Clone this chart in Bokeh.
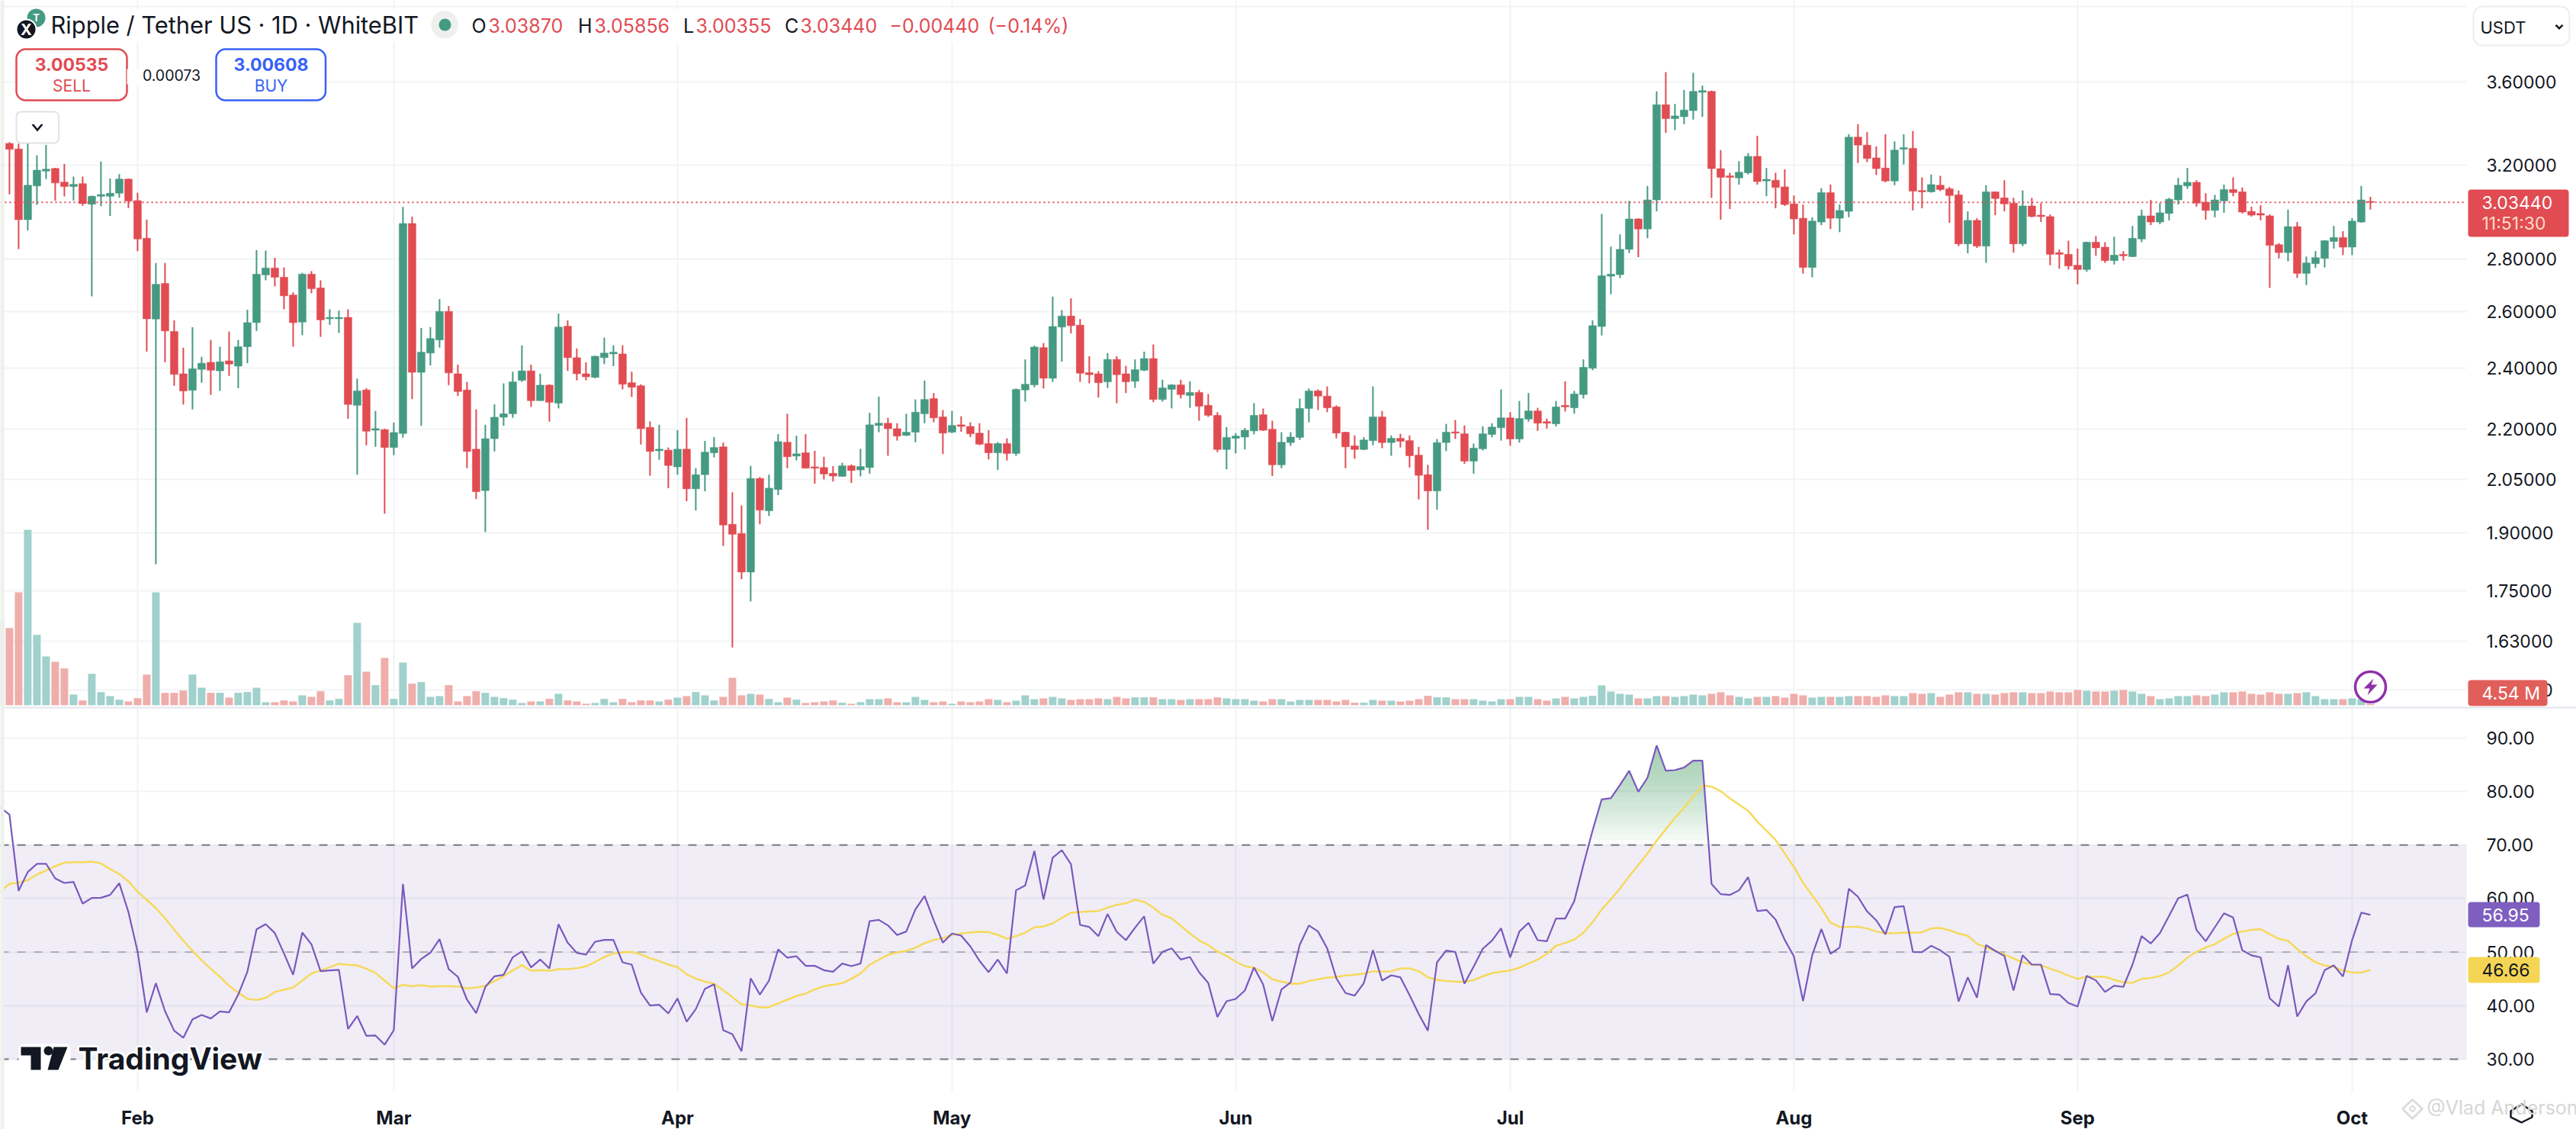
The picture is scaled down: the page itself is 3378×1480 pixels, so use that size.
import numpy as np
from bokeh.plotting import figure
from bokeh.layouts import column
from bokeh.models import (Range1d, LinearScale, FixedTicker, Grid, Label, BoxAnnotation,
                          PolyAnnotation, NumeralTickFormatter, ColumnDataSource)
from bokeh.embed import file_html
from bokeh.resources import INLINE

month_ticks = [14, 42, 73, 103, 134, 164, 195, 226, 256]
month_labels = ["Feb", "Mar", "Apr", "May", "Jun", "Jul", "Aug", "Sep", "Oct"]
price_ticks = [3.6, 3.2, 2.8, 2.6, 2.4, 2.2, 2.05, 1.9, 1.75, 1.63, 1.52]
rsi_ticks = [30, 40, 50, 60, 70, 80, 90]

open_ = [
3.299,3.273,2.961,3.106,3.172,3.184,3.123,3.103,3.116,3.026,
3.061,3.061,3.074,3.136,3.042,2.884,2.572,2.705,2.527,2.380,
2.325,2.395,2.419,2.390,2.424,2.406,2.473,2.559,2.738,2.765,
2.729,2.661,2.561,2.741,2.688,2.573,2.573,2.578,2.276,2.326,
2.197,2.199,2.144,2.187,2.945,2.385,2.451,2.497,2.600,2.380,
2.326,2.139,2.017,2.171,2.238,2.249,2.358,2.390,2.291,2.342,
2.283,2.546,2.435,2.380,2.368,2.435,2.448,2.448,2.350,2.340,
2.206,2.134,2.136,2.086,2.139,2.022,2.063,2.128,2.146,1.923,
1.898,1.797,2.052,1.960,2.020,2.160,2.118,2.128,2.086,2.084,
2.067,2.058,2.089,2.077,2.084,2.212,2.219,2.202,2.181,2.191,
2.249,2.298,2.239,2.191,2.214,2.209,2.188,2.156,2.128,2.156,
2.126,2.326,2.343,2.470,2.365,2.543,2.583,2.550,2.384,2.380,
2.353,2.429,2.380,2.355,2.392,2.432,2.295,2.328,2.343,2.308,
2.318,2.276,2.244,2.138,2.172,2.176,2.195,2.246,2.200,2.092,
2.159,2.175,2.266,2.323,2.306,2.271,2.191,2.149,2.138,2.165,
2.239,2.159,2.172,2.165,2.121,2.063,2.016,2.159,2.192,2.186,
2.103,2.140,2.184,2.205,2.236,2.170,2.232,2.258,2.224,2.217,
2.276,2.268,2.311,2.399,2.545,2.733,2.739,2.839,2.964,2.922,
3.045,3.485,3.417,3.426,3.456,3.547,3.551,3.183,3.151,3.141,
3.164,3.239,3.128,3.131,3.102,3.028,2.967,2.767,2.951,3.077,
2.967,2.996,3.328,3.291,3.232,3.186,3.128,3.272,3.276,3.086,
3.080,3.109,3.093,3.067,2.861,2.958,2.852,3.080,3.054,3.031,
2.861,3.019,2.980,2.974,2.826,2.819,2.776,2.759,2.868,2.848,
2.794,2.819,2.810,2.881,2.977,2.951,2.987,3.045,3.106,3.122,
3.035,3.000,3.041,3.090,3.080,2.996,2.987,2.977,2.858,2.826,
2.932,2.744,2.782,2.803,2.871,2.887,2.848,2.951,3.0387]

close = [
3.271,2.961,3.109,3.176,3.181,3.119,3.103,3.113,3.029,3.061,
3.068,3.074,3.136,3.040,2.881,2.573,2.702,2.529,2.378,2.323,
2.397,2.416,2.392,2.421,2.413,2.473,2.559,2.741,2.765,2.729,
2.658,2.559,2.741,2.685,2.569,2.578,2.578,2.279,2.323,2.194,
2.202,2.144,2.190,2.945,2.385,2.454,2.502,2.600,2.383,2.321,
2.132,2.014,2.171,2.238,2.249,2.353,2.390,2.291,2.342,2.286,
2.543,2.435,2.380,2.370,2.440,2.451,2.454,2.345,2.335,2.202,
2.132,2.139,2.090,2.139,2.022,2.063,2.130,2.144,1.921,1.896,
1.797,2.052,1.962,2.024,2.162,2.116,2.125,2.082,2.082,2.065,
2.059,2.089,2.075,2.087,2.214,2.219,2.202,2.179,2.191,2.254,
2.295,2.236,2.188,2.212,2.209,2.186,2.154,2.128,2.156,2.126,
2.328,2.345,2.472,2.365,2.545,2.583,2.548,2.382,2.377,2.350,
2.429,2.377,2.353,2.394,2.432,2.295,2.333,2.343,2.311,2.318,
2.273,2.244,2.138,2.175,2.179,2.197,2.244,2.197,2.092,2.160,
2.176,2.266,2.323,2.306,2.268,2.188,2.146,2.138,2.167,2.239,
2.159,2.172,2.163,2.119,2.061,2.016,2.159,2.191,2.188,2.103,
2.142,2.186,2.207,2.236,2.170,2.234,2.258,2.219,2.219,2.271,
2.271,2.313,2.402,2.548,2.735,2.741,2.839,2.964,2.922,3.045,
3.485,3.417,3.430,3.459,3.551,3.555,3.183,3.144,3.144,3.167,
3.239,3.125,3.135,3.099,3.025,2.964,2.767,2.955,3.077,2.967,
3.000,3.328,3.291,3.229,3.183,3.128,3.268,3.279,3.083,3.080,
3.112,3.090,3.064,2.861,2.958,2.852,3.080,3.051,3.028,2.861,
3.019,2.974,2.974,2.819,2.819,2.773,2.759,2.868,2.845,2.794,
2.816,2.813,2.884,2.977,2.951,2.990,3.048,3.109,3.122,3.031,
3.000,3.045,3.090,3.077,2.993,2.980,2.980,2.855,2.826,2.932,
2.744,2.785,2.806,2.874,2.887,2.848,2.955,3.045,3.0344]

high = [
3.305,3.298,3.374,3.244,3.292,3.187,3.204,3.147,3.147,3.063,
3.215,3.139,3.158,3.139,3.076,2.961,2.785,2.785,2.567,2.470,
2.542,2.438,2.497,2.473,2.527,2.497,2.606,2.836,2.834,2.805,
2.767,2.671,2.746,2.753,2.717,2.608,2.603,2.608,2.364,2.332,
2.258,2.202,2.221,3.015,2.974,2.540,2.543,2.646,2.620,2.411,
2.353,2.263,2.214,2.279,2.348,2.387,2.478,2.411,2.380,2.345,
2.592,2.567,2.467,2.419,2.442,2.505,2.478,2.478,2.387,2.345,
2.225,2.214,2.144,2.197,2.236,2.082,2.164,2.176,2.159,2.012,
1.975,2.089,2.056,2.063,2.185,2.249,2.180,2.185,2.134,2.116,
2.088,2.098,2.093,2.140,2.252,2.304,2.236,2.219,2.249,2.295,
2.357,2.316,2.261,2.258,2.241,2.222,2.219,2.197,2.160,2.172,
2.331,2.429,2.477,2.486,2.655,2.605,2.649,2.572,2.440,2.389,
2.451,2.440,2.407,2.429,2.456,2.481,2.360,2.345,2.360,2.355,
2.326,2.313,2.254,2.207,2.188,2.204,2.283,2.266,2.227,2.191,
2.191,2.298,2.331,2.328,2.338,2.276,2.192,2.181,2.176,2.338,
2.258,2.181,2.186,2.181,2.146,2.092,2.170,2.217,2.229,2.212,
2.156,2.209,2.219,2.328,2.254,2.290,2.316,2.268,2.234,2.290,
2.355,2.323,2.429,2.567,2.985,2.850,2.900,3.041,2.967,3.106,
3.551,3.650,3.489,3.558,3.646,3.580,3.555,3.268,3.164,3.217,
3.254,3.335,3.186,3.164,3.180,3.064,3.025,2.971,3.096,3.112,
3.025,3.342,3.390,3.353,3.285,3.342,3.309,3.342,3.357,3.144,
3.157,3.151,3.102,3.086,2.996,2.967,3.109,3.082,3.131,3.054,
3.086,3.054,3.031,2.983,2.839,2.874,2.842,2.870,2.893,2.868,
2.890,2.832,2.935,3.003,3.045,3.031,3.054,3.141,3.186,3.131,
3.074,3.067,3.112,3.144,3.099,3.016,3.022,2.983,2.864,3.003,
2.951,2.810,2.832,2.876,2.935,2.913,2.967,3.106,3.05856]

low = [
3.069,2.840,2.916,3.024,3.136,3.042,3.060,3.042,3.020,2.656,
3.017,2.977,3.055,3.010,2.832,2.456,1.817,2.419,2.340,2.279,
2.263,2.350,2.310,2.323,2.373,2.332,2.416,2.529,2.717,2.694,
2.608,2.473,2.514,2.668,2.508,2.551,2.522,2.233,2.063,2.151,
2.146,1.952,2.121,2.174,2.296,2.211,2.408,2.470,2.342,2.306,
2.082,1.993,1.902,2.132,2.211,2.236,2.353,2.271,2.291,2.224,
2.266,2.390,2.358,2.358,2.365,2.413,2.406,2.328,2.303,2.153,
2.060,2.107,2.024,2.063,1.987,1.961,2.015,2.114,1.865,1.615,
1.779,1.724,1.923,1.946,2.004,2.082,2.105,2.081,2.037,2.049,
2.043,2.057,2.039,2.058,2.066,2.191,2.119,2.165,2.179,2.160,
2.219,2.222,2.124,2.188,2.192,2.176,2.151,2.108,2.077,2.105,
2.119,2.288,2.335,2.331,2.353,2.421,2.520,2.353,2.348,2.301,
2.333,2.283,2.316,2.333,2.389,2.286,2.288,2.266,2.298,2.268,
2.227,2.239,2.130,2.079,2.126,2.138,2.184,2.195,2.059,2.082,
2.149,2.167,2.222,2.261,2.254,2.172,2.082,2.110,2.136,2.151,
2.142,2.119,2.144,2.084,1.992,1.908,1.963,2.133,2.170,2.095,
2.066,2.135,2.175,2.165,2.149,2.159,2.224,2.195,2.202,2.209,
2.256,2.249,2.298,2.392,2.513,2.664,2.726,2.824,2.808,2.884,
2.996,3.349,3.362,3.390,3.412,3.426,3.054,2.961,3.006,3.112,
3.157,3.112,3.061,3.009,3.019,2.900,2.743,2.729,2.938,2.922,
2.909,2.971,3.208,3.213,3.154,3.122,3.109,3.202,3.000,3.009,
3.077,3.083,2.948,2.852,2.823,2.845,2.785,2.980,2.996,2.826,
2.852,2.971,2.951,2.776,2.762,2.759,2.702,2.750,2.813,2.785,
2.779,2.794,2.808,2.868,2.938,2.942,2.958,3.025,3.093,3.016,
2.961,2.971,2.990,3.061,2.987,2.974,2.958,2.688,2.803,2.791,
2.726,2.699,2.765,2.767,2.842,2.816,2.816,2.948,3.00355]

volume_prev = 340
volume_m = [
304,444,690,277,192,171,145,42,19,124,
52,36,22,15,28,121,444,49,49,58,
121,69,49,49,30,49,52,69,12,12,
19,15,39,33,55,19,25,118,324,132,
79,186,25,168,85,91,33,36,79,15,
36,55,49,33,28,22,9,15,15,25,
45,19,15,6,9,25,12,25,12,19,
19,15,22,30,36,52,39,19,33,108,
39,45,42,25,12,30,22,9,12,15,
19,10,6,12,24,24,27,12,12,33,
21,12,15,6,15,12,15,24,21,12,
18,39,24,27,33,27,21,24,24,27,
24,33,27,31,31,31,24,24,21,24,
24,24,31,27,24,24,18,15,24,24,
15,21,21,21,21,15,21,10,10,21,
18,18,15,18,24,37,31,31,24,24,
24,18,15,24,24,33,33,24,18,27,
33,27,33,37,78,54,45,42,27,27,
36,36,33,36,42,39,45,51,39,33,
27,33,33,36,30,45,39,30,33,33,
33,36,36,36,33,39,36,36,48,45,
48,33,42,51,51,45,45,42,48,51,
51,48,48,54,51,51,60,57,54,54,
57,60,54,45,36,24,27,36,36,39,
36,42,51,51,54,45,42,51,45,45,
48,51,36,24,24,24,27,24,4.54]

rsi = [77.0,
75.68,61.43,64.95,66.47,66.5,63.76,62.9,63.1,59.06,60.1,
60.15,60.67,62.86,57.49,50.13,38.74,44.2,38.97,35.32,33.99,
37.45,38.26,37.6,38.93,38.74,42.06,46.33,54.26,55.21,53.55,
49.75,45.76,53.65,51.46,46.43,46.57,46.67,35.65,38.07,34.37,
34.42,32.71,35.41,62.72,46.95,48.71,49.9,52.41,46.81,45.38,
41.11,38.59,43.49,45.48,45.76,49.04,50.13,47.14,48.61,46.95,
55.21,51.75,49.85,49.52,51.94,52.27,52.27,48.09,47.66,42.44,
40.02,40.16,38.55,41.35,36.98,39.35,43.15,44.0,35.41,34.65,
31.47,45.1,42.06,44.67,50.51,48.95,49.23,47.43,47.43,46.62,
46.33,47.85,47.38,47.85,55.78,56.02,54.98,53.17,53.84,57.97,
60.48,55.93,51.75,53.46,53.08,51.08,48.38,46.24,48.61,46.0,
61.53,62.43,68.89,59.82,67.61,69.03,66.42,55.07,54.69,52.98,
57.11,53.79,52.22,54.55,56.69,47.85,50.04,50.7,48.61,49.09,
46.24,44.25,37.88,40.83,41.25,42.82,47.14,43.96,37.12,43.01,
44.34,51.37,54.98,53.84,50.7,45.1,42.35,41.87,44.2,50.37,
44.67,45.67,45.29,41.97,38.45,35.32,48.09,50.28,50.04,44.1,
47.28,50.61,52.13,54.45,48.99,53.84,55.45,52.22,52.03,56.26,
56.26,59.53,66.28,72.69,78.53,78.72,81.23,83.85,79.95,82.56,
88.59,83.85,83.99,84.46,85.75,85.75,62.72,60.82,60.67,61.53,
64.0,57.64,57.87,56.07,52.27,49.18,40.87,49.42,54.31,49.66,
50.85,61.81,60.34,57.59,55.93,53.31,58.39,58.58,50.04,49.99,
51.18,50.32,49.14,40.78,45.29,41.49,51.32,50.23,49.28,42.82,
49.42,47.66,47.66,42.16,42.06,40.49,39.83,45.57,44.72,42.54,
43.72,43.49,47.66,52.98,51.6,53.55,56.78,60.06,60.72,54.12,
52.03,54.64,57.24,56.44,50.32,49.39,49.02,41.36,39.82,47.54,
37.97,40.81,42.29,46.62,47.54,45.44,52.24,57.36,56.95]

rsi_ma = [61.3,
62.72,62.95,63.43,64.47,65.23,66.04,66.7,66.8,66.8,66.89,
66.56,65.52,64.57,63.2,61.29,59.77,58.2,56.3,54.17,52.13,
50.23,48.47,46.9,45.38,43.72,42.44,41.25,41.06,41.44,42.54,
42.96,43.39,44.67,46.0,46.57,47.19,47.81,47.62,47.52,46.9,
46.1,44.67,43.25,43.87,43.63,43.82,43.58,43.63,43.63,43.58,
43.2,43.39,43.72,44.58,45.48,46.57,47.57,46.52,46.62,46.52,
46.81,46.81,47.0,47.33,48.14,49.09,49.75,49.94,50.04,49.56,
48.85,48.33,47.66,47.19,45.86,45.05,44.49,44.06,42.87,41.59,
40.26,40.02,39.64,39.73,40.4,41.11,41.82,42.25,43.01,43.63,
43.87,44.2,45.0,46.0,47.66,48.57,49.47,49.94,50.23,50.8,
51.65,52.27,52.6,53.22,53.46,53.69,53.79,53.74,53.22,52.51,
52.98,53.6,54.64,54.79,55.36,56.4,57.35,57.49,57.59,57.68,
58.3,58.82,59.11,59.77,59.39,58.3,56.97,56.31,54.88,53.46,
52.17,51.32,50.13,49.28,48.23,47.38,47.05,46.24,44.91,44.48,
44.1,44.1,44.58,44.91,45.24,45.34,45.62,45.76,46.0,46.43,
46.33,46.43,46.95,46.95,46.43,45.29,44.81,44.58,44.48,44.43,
44.77,45.48,46.05,46.33,46.57,47.09,47.85,48.61,49.66,51.18,
51.7,52.36,53.6,55.59,57.97,59.87,61.91,64.14,66.28,68.41,
70.79,72.93,75.06,76.96,79.0,81.14,80.9,80.05,78.72,77.53,
76.39,74.35,72.69,70.93,68.41,65.9,62.95,60.58,58.2,55.5,
54.69,54.69,54.74,54.41,53.84,53.55,53.55,53.65,53.6,53.69,
54.41,54.5,54.07,53.46,53.03,51.56,50.85,50.23,49.56,48.8,
48.09,47.66,47.52,46.9,46.33,45.62,45.0,45.38,45.38,45.38,
44.81,44.39,44.25,45.0,45.15,45.53,46.19,47.52,48.95,50.04,
50.85,51.49,52.48,53.41,53.84,54.15,54.27,53.35,52.48,52.11,
50.57,49.21,48.1,47.48,47.23,46.55,46.18,46.18,46.66]

last_price = 3.0344
last_rsi = 56.95
last_ma = 46.66

GREEN, RED = "#459a82", "#e14b52"
VGREEN, VRED = "#a0d1cc", "#efaeab"
INK = "#131722"
GRID = "#f2f3f4"
FONT = "Inter"
AXIS_PX = 23

# ---- page-pixel layout: frames fill both canvases, axes sit at fixed locations ----
SPLIT, BOT, RIGHT, W, H = 926, 1430, 3234, 3378, 1480
px_per_day = 12.0
x0_page = 11.9
xr = Range1d((0 - x0_page) / px_per_day, (W - x0_page) / px_per_day)
x_axis_end = (RIGHT - x0_page) / px_per_day
rsi_floor = 24.02

n = len(close)
idx = np.arange(n)
o, c, h, l = map(np.array, (open_, close, high, low))
up = c >= o

common = dict(width=W, x_range=xr, y_axis_location="right", output_backend="svg", toolbar_location=None,
              min_border_left=0, min_border_right=0, min_border_top=0, min_border_bottom=0,
              outline_line_color=None, background_fill_color="white", border_fill_color="white")
p1 = figure(height=SPLIT, y_range=Range1d(1.4848, 4.040), y_axis_type="log", x_axis_location=None, **common)
p2 = figure(height=H - SPLIT, y_range=Range1d(16.89, 95.81), **common)


def fb(p):
    return SPLIT if p is p1 else H


def under(p, x0, y0, x1, y1):
    p.add_layout(BoxAnnotation(left=x0, right=x1, top=fb(p) - y0, bottom=fb(p) - y1,
                               left_units="screen", right_units="screen", top_units="screen", bottom_units="screen",
                               fill_color="white", fill_alpha=1, line_alpha=0, level="underlay"))


for p in (p1, p2):
    p.grid.visible = False
    p.add_layout(Grid(dimension=0, ticker=FixedTicker(ticks=month_ticks), grid_line_color=GRID, grid_line_width=2))

p1.add_layout(Grid(dimension=1, ticker=FixedTicker(ticks=price_ticks), grid_line_color=GRID, grid_line_width=2))
p2.add_layout(Grid(dimension=1, ticker=FixedTicker(ticks=rsi_ticks), grid_line_color=GRID, grid_line_width=2))
under(p1, RIGHT, 0, W, SPLIT)
under(p2, RIGHT, SPLIT, W, H)
under(p2, 0, BOT, W, H)

for p, ticks, fmt in ((p1, price_ticks, "0.00000"), (p2, rsi_ticks, "0.00")):
    ax = p.yaxis[0]
    ax.ticker = FixedTicker(ticks=ticks)
    ax.formatter = NumeralTickFormatter(format=fmt)
    ax.axis_line_color = None
    ax.major_tick_line_color = None
    ax.minor_tick_line_color = None
    ax.major_label_text_font = FONT
    ax.major_label_text_font_size = f"{AXIS_PX}px"
    ax.major_label_text_color = INK
    ax.major_label_standoff = 20
    ax.fixed_location = x_axis_end

xa = p2.xaxis[0]
xa.ticker = FixedTicker(ticks=month_ticks)
xa.major_label_overrides = dict(zip(month_ticks, month_labels))
xa.axis_line_color = None
xa.major_tick_line_color = None
xa.minor_tick_line_color = None
xa.major_label_text_font = FONT
xa.major_label_text_font_size = "24px"
xa.major_label_text_font_style = "bold"
xa.major_label_text_color = INK
xa.major_label_standoff = 15
xa.fixed_location = rsi_floor

# ---- volume on its own linear scale ---------------------------------------
p1.extra_y_ranges = {"vol": Range1d(-6, 2772)}
p1.extra_y_scales = {"vol": LinearScale()}
p1.vbar(x=np.arange(-1, n), top=[volume_prev] + volume_m, bottom=0, width=10 / px_per_day, y_range_name="vol",
        color=[VGREEN] + [VGREEN if u else VRED for u in up], line_alpha=0)

# ---- candles ----------------------------------------------------------------
cols = [GREEN if u else RED for u in up]
src = ColumnDataSource(dict(x=idx, high=h, low=l, top=np.maximum(o, c), bottom=np.minimum(o, c), color=cols))
p1.segment(x0="x", x1="x", y0="low", y1="high", source=src, line_color="color", line_width=2)
p1.vbar(x="x", top="top", bottom="bottom", width=10 / px_per_day, source=src, fill_color="color", line_color="color",
        line_width=0.5)
p1.segment(x0=[xr.start], x1=[x_axis_end], y0=[last_price], y1=[last_price], line_color="#e14b52", line_width=2,
           line_dash="2 4")

# ---- RSI pane -----------------------------------------------------------------
xrsi = np.arange(-1, n)
p2.quad(left=[xr.start], right=[x_axis_end], bottom=[30], top=[70], fill_color="#694baf", fill_alpha=0.1, line_alpha=0)
xf = np.arange(171, 188, 0.02)
yf = np.interp(xf, xrsi, rsi)
for t in range(70, 89):
    p2.varea(x=xf, y1=np.full_like(xf, t), y2=np.maximum(yf, t), fill_color="#4caf50", fill_alpha=0.03)
for lvl, a in ((70, 1), (50, 0.5), (30, 1)):
    p2.segment(x0=[xr.start], x1=[x_axis_end], y0=[lvl], y1=[lvl], line_color="#787b86", line_alpha=a, line_width=2,
               line_dash="11 11")
p2.line(xrsi, rsi_ma, line_color="#f7d95a", line_width=2.5)
p2.line(xrsi, rsi, line_color="#7a59bd", line_width=2.2)


# ---- screen furniture helpers (page pixels -> frame offsets) ------------------
def text(p, x, y, s, size, color=INK, align="left", bold=False, font=FONT):
    p.add_layout(Label(x=x, y=fb(p) - y, x_units="screen", y_units="screen", text=s, text_font=font,
                       text_font_size=f"{size}px", text_color=color, text_align=align, text_baseline="middle",
                       text_font_style="bold" if bold else "normal", level="overlay"))


def box(p, x0, y0, x1, y1, fill="white", line=None, lw=2, r=0):
    p.add_layout(BoxAnnotation(left=x0, right=x1, top=fb(p) - y0, bottom=fb(p) - y1,
                               left_units="screen", right_units="screen", top_units="screen", bottom_units="screen",
                               fill_color=fill, fill_alpha=1 if fill else 0, line_color=line,
                               line_alpha=1 if line else 0, line_width=lw, border_radius=r, level="overlay"))


def poly(p, pts, fill=INK, line=None, lw=1):
    p.add_layout(PolyAnnotation(xs=[a for a, _ in pts], ys=[fb(p) - b for _, b in pts],
                                xs_units="screen", ys_units="screen",
                                fill_color=fill, fill_alpha=1 if fill else 0,
                                line_color=line, line_alpha=1 if line else 0, line_width=lw, level="overlay"))


# left strip of the screenshot and top edge
box(p1, 0, 0, 5, SPLIT, fill="#eef0ec")
box(p2, 0, SPLIT, 5, H, fill="#eef0ec")
box(p1, 5, 7, RIGHT, 9, fill="#f3f3f4")
# header
box(p1, 5, 12, 1420, 55)
box(p1, 35, 11, 59, 35, fill=GREEN, r=12)
text(p1, 47, 22, "T", 13, "white", "center", True)
box(p1, 21, 25, 47, 51, fill=INK, line="white", lw=2, r=13)
text(p1, 34, 38, "X", 20, "white", "center", True)
text(p1, 66, 32, "Ripple / Tether US · 1D · WhiteBIT", 30.8)
box(p1, 565, 14, 600, 50, fill="#eef0ee", r=17)
box(p1, 575, 24, 591, 40, fill=GREEN, r=8)
for xx, lab, xv, val in ((618, "O", 640, "3.03870"), (757.5, "H", 779, "3.05856"),
                         (895.6, "L", 912, "3.00355"), (1028.6, "C", 1049, "3.03440")):
    text(p1, xx, 33, lab, 25)
    text(p1, xv, 33, val, 25, RED)
text(p1, 1166, 33, "−0.00440", 25, RED)
text(p1, 1295, 33, "(−0.14%)", 25, RED)
# sell / buy
box(p1, 21, 64, 166, 131, line="#e14b52", lw=2.5, r=12)
text(p1, 93.5, 84, "3.00535", 23, RED, "center", True)
text(p1, 93.5, 112, "SELL", 21, RED, "center")
box(p1, 166, 90, 283, 110)
text(p1, 224.5, 98, "0.00073", 19.5, INK, "center")
box(p1, 283, 64, 426.5, 131, line="#3861f6", lw=2.5, r=12)
text(p1, 355, 84, "3.00608", 23, "#3861f6", "center", True)
text(p1, 355, 112, "BUY", 21, "#3861f6", "center")
box(p1, 21, 146, 76.5, 187, line="#e0e3e6", lw=2, r=6)
poly(p1, [(41, 163), (43.5, 162), (48.5, 168), (53.5, 162), (56, 163), (48.5, 172)])
# currency button
box(p1, 3243, 8, 3369, 59, line="#eeeeec", lw=2, r=12)
text(p1, 3252, 35, "USDT", 22)
poly(p1, [(3350, 33), (3352, 31.5), (3355.5, 35), (3359, 31.5), (3361, 33), (3355.5, 38.5)])
# price tags
box(p1, 3236, 248, 3368, 310, fill="#e14b52", r=4)
text(p1, 3254, 265, "3.03440", AXIS_PX, "white")
text(p1, 3254, 292, "11:51:30", 23, "#fbdcc4")
box(p1, 3236, 891, 3340, 925, fill="#e15f5a", r=4)
text(p1, 3254, 908, "4.54 M", AXIS_PX, "white")
# bolt badge
box(p1, 3088, 880, 3128, 920, fill="white", line="#9030a8", lw=3.5, r=20)
poly(p1, [(3112, 889), (3099, 902), (3107, 902), (3104, 911), (3117, 897), (3109, 897)], fill="#9030a8")
# separator between panes
box(p2, 5, SPLIT, W, SPLIT + 2, fill="#e0e3eb")
# RSI tags
box(p2, 3236, 1182, 3330, 1215, fill="#7e5fc0", r=4)
text(p2, 3254, 1198.5, f"{last_rsi:.2f}", AXIS_PX, "white")
box(p2, 3236, 1254, 3330, 1288, fill="#f5d654", r=4)
text(p2, 3254, 1271, f"{last_ma:.2f}", AXIS_PX, INK)
# TradingView mark
box(p2, 24, 1368, 92, 1406, fill="white", r=6)
for dx, dy in ((-3, 0), (3, 0), (0, -3), (0, 3), (-2, -2), (2, -2), (-2, 2), (2, 2)):
    text(p2, 102 + dx, 1387 + dy, "TradingView", 39, "white", "left", True)
text(p2, 102, 1387, "TradingView", 39, INK, "left", True)
poly(p2, [(27, 1372), (53, 1372), (53, 1402), (40, 1402), (40, 1383), (27, 1383)])
box(p2, 57, 1371, 69, 1383, fill=INK, r=6)
poly(p2, [(70, 1372), (88, 1372), (76, 1402), (62, 1402)])
# watermark
poly(p2, [(3163, 1441), (3176, 1453), (3163, 1466), (3150, 1453)], fill=None, line="#dcdcdc", lw=3)
poly(p2, [(3163, 1449), (3167, 1453), (3163, 1457), (3159, 1453)], fill=None, line="#dcdcdc", lw=2)
poly(p2, [(3306, 1447), (3320, 1456), (3320, 1464), (3306, 1471), (3292, 1464), (3292, 1456)], fill=None, line=INK, lw=2.5)
text(p2, 3182, 1451, "@Vlad Anderson", 25, "#d6d6d6")

page = column(p1, p2, spacing=0)
open("out.html", "w").write(file_html(page, INLINE))
